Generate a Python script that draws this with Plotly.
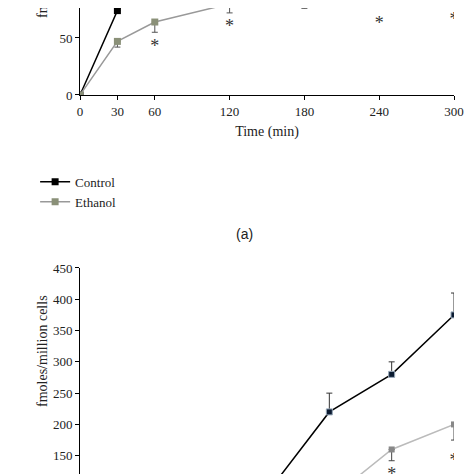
import plotly.graph_objects as go

time_a = [0, 30, 60, 120, 180, 240, 300]
control_a = [0, 74, 110, 140, 160, 180, 200]
control_a_err = [0, 5, 8, 10, 10, 12, 12]
ethanol_a = [0, 47, 64, 80, 88, 92, 96]
ethanol_a_err = [0, 5, 9, 8, 12, 14, 14]
star_a_x = [60, 120, 240, 300]
star_a_y = [42, 59, 62, 65]

idx_b = [0, 1, 2, 3, 4, 5, 6]
control_b = [0, 20, 50, 90, 220, 280, 375]
control_b_err = [0, 5, 10, 15, 30, 20, 35]
ethanol_b = [0, 10, 25, 50, 80, 160, 200]
ethanol_b_err = [0, 3, 5, 8, 10, 18, 25]
star_b_x = [5, 6]
star_b_y = [118, 140]

F = "Liberation Serif"
fig = go.Figure()
fig.add_trace(go.Scatter(x=time_a, y=control_a, name="Control", mode="lines+markers",
    line=dict(color="black", width=1.5), marker=dict(symbol="square", size=7, color="black"),
    error_y=dict(type="data", array=control_a_err, arrayminus=[0]*7, color="black", thickness=1, width=3),
    xaxis="x", yaxis="y"))
fig.add_trace(go.Scatter(x=time_a, y=ethanol_a, name="Ethanol", mode="lines+markers",
    line=dict(color="#999999", width=1.5), marker=dict(symbol="square", size=7, color="#8a9078"),
    error_y=dict(type="data", array=[0]*7, arrayminus=ethanol_a_err, color="#555", thickness=1, width=3),
    xaxis="x", yaxis="y"))
fig.add_trace(go.Scatter(x=star_a_x, y=star_a_y, mode="text", text=["*"]*4, showlegend=False,
    textfont=dict(family=F, size=18, color="#333"), xaxis="x", yaxis="y"))
fig.add_trace(go.Scatter(x=idx_b, y=control_b, mode="lines+markers", showlegend=False,
    line=dict(color="black", width=1.5), marker=dict(symbol="square", size=6, color="#0a1a30", line=dict(color="#9ab", width=1)),
    error_y=dict(type="data", array=control_b_err, arrayminus=[0]*7, color="#333", thickness=1, width=3),
    xaxis="x2", yaxis="y2"))
fig.add_trace(go.Scatter(x=idx_b, y=ethanol_b, mode="lines+markers", showlegend=False,
    line=dict(color="#bbbbbb", width=1.5), marker=dict(symbol="square", size=6, color="#888"),
    error_y=dict(type="data", array=[0]*7, arrayminus=ethanol_b_err, color="#444", thickness=1, width=3),
    xaxis="x2", yaxis="y2"))
fig.add_trace(go.Scatter(x=star_b_x, y=star_b_y, mode="text", text=["*"]*2, showlegend=False,
    textfont=dict(family=F, size=18, color="#333"), xaxis="x2", yaxis="y2"))

ax = dict(showgrid=False, zeroline=False, showline=True, linecolor="black", ticks="outside",
          ticklen=4, tickcolor="black", tickfont=dict(family=F, size=13, color="#222"), automargin=False)
fig.update_layout(
    width=474, height=474, margin=dict(l=72, r=28, t=0, b=0, autoexpand=False),
    plot_bgcolor="white", paper_bgcolor="white",
    font=dict(family=F, color="#222"),
    xaxis=dict(ax, domain=[0, 1], range=[0, 300], tickvals=[0, 30, 60, 120, 180, 240, 300],
               anchor="y", title=dict(text="Time (min)", font=dict(family=F, size=14), standoff=8)),
    yaxis=dict(ax, domain=[0.8165, 1], range=[0, 76.3], tickvals=[0, 50], anchor="x"),
    xaxis2=dict(domain=[0, 1], range=[0, 6], visible=False, anchor="y2"),
    yaxis2=dict(ax, domain=[0, 0.4515], range=[108, 450], tickvals=[150, 200, 250, 300, 350, 400, 450], anchor="x2"),
    showlegend=True,
    legend=dict(x=-0.12, y=0.665, xanchor="left", yanchor="top", font=dict(family=F, size=13),
                bgcolor="rgba(0,0,0,0)", tracegroupgap=0),
    annotations=[
        dict(text="(a)", x=0.44, y=1-226/474, xref="paper", yref="paper", showarrow=False,
             font=dict(family="Liberation Sans", size=14)),
        dict(text="fmoles/million cells", x=-0.127, y=1-12/474, xref="paper", yref="paper",
             textangle=-90, showarrow=False, yanchor="bottom", font=dict(family=F, size=14)),
        dict(text="fmoles/million cells", x=-0.127, y=1-401/474, xref="paper", yref="paper",
             textangle=-90, showarrow=False, font=dict(family=F, size=14)),
    ],
)
fig.write_html("out.html")
